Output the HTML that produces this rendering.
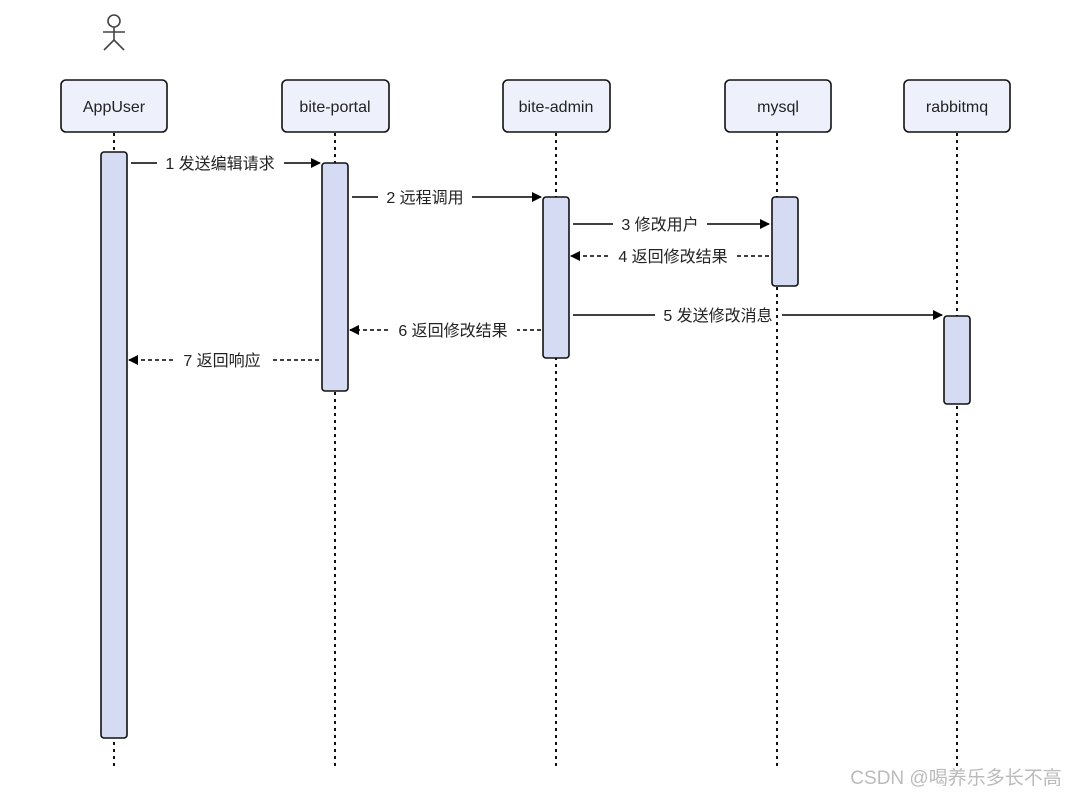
<!DOCTYPE html>
<html><head><meta charset="utf-8"><style>
html,body{margin:0;padding:0;background:#fff;}
svg{display:block;}
text{font-family:"Liberation Sans","Noto Sans CJK SC",sans-serif;font-size:16px;fill:#222;}
</style></head><body>
<svg width="1071" height="795" viewBox="0 0 1071 795" xmlns="http://www.w3.org/2000/svg">
<defs>
<marker id="ah" markerWidth="10" markerHeight="10" refX="9" refY="5" orient="auto" markerUnits="userSpaceOnUse">
<path d="M0,0 L10,5 L0,10 z" fill="#000"/>
</marker>
</defs>
<g stroke="#444" stroke-width="1.6" fill="none">
<circle cx="114" cy="21" r="6"/>
<line x1="114" y1="27" x2="114" y2="40"/>
<line x1="103" y1="32" x2="125" y2="32"/>
<line x1="114" y1="40" x2="104" y2="50"/>
<line x1="114" y1="40" x2="124" y2="50"/>
</g>
<g stroke="#111" stroke-width="2" stroke-dasharray="3,4">
<line x1="114" y1="133" x2="114" y2="768"/>
<line x1="335" y1="133" x2="335" y2="768"/>
<line x1="556" y1="133" x2="556" y2="768"/>
<line x1="777" y1="133" x2="777" y2="768"/>
<line x1="957" y1="133" x2="957" y2="768"/>
</g>
<g fill="#eef1fc" stroke="#111" stroke-width="1.6">
<rect x="61" y="80" width="106" height="52" rx="5"/>
<rect x="282" y="80" width="107" height="52" rx="5"/>
<rect x="503" y="80" width="107" height="52" rx="5"/>
<rect x="725" y="80" width="106" height="52" rx="5"/>
<rect x="904" y="80" width="106" height="52" rx="5"/>
</g>
<g text-anchor="middle" style="font-size:17px">
<text x="114" y="112">AppUser</text>
<text x="335" y="112">bite-portal</text>
<text x="556" y="112">bite-admin</text>
<text x="778" y="112">mysql</text>
<text x="957" y="112">rabbitmq</text>
</g>
<g fill="#d5dbf3" stroke="#111" stroke-width="1.6">
<rect x="101" y="152" width="26" height="586" rx="3"/>
<rect x="322" y="163" width="26" height="228" rx="3"/>
<rect x="543" y="197" width="26" height="161" rx="3"/>
<rect x="772" y="197" width="26" height="89" rx="3"/>
<rect x="944" y="316" width="26" height="88" rx="3"/>
</g>
<g stroke="#000" stroke-width="1.6" fill="none">
<line x1="131" y1="163" x2="157" y2="163"/>
<line x1="284" y1="163" x2="320" y2="163" marker-end="url(#ah)"/>
<line x1="352" y1="197" x2="378" y2="197"/>
<line x1="472" y1="197" x2="541" y2="197" marker-end="url(#ah)"/>
<line x1="573" y1="224" x2="613" y2="224"/>
<line x1="707" y1="224" x2="769" y2="224" marker-end="url(#ah)"/>
<line x1="573" y1="315" x2="655" y2="315"/>
<line x1="782" y1="315" x2="942" y2="315" marker-end="url(#ah)"/>
</g>
<g stroke="#000" stroke-width="1.6" fill="none" stroke-dasharray="4,3">
<line x1="769" y1="256" x2="737" y2="256"/>
<line x1="608" y1="256" x2="571" y2="256" marker-end="url(#ah)"/>
<line x1="541" y1="330" x2="517" y2="330"/>
<line x1="388" y1="330" x2="350" y2="330" marker-end="url(#ah)"/>
<line x1="319" y1="360" x2="270" y2="360"/>
<line x1="173" y1="360" x2="129" y2="360" marker-end="url(#ah)"/>
</g>
<g text-anchor="middle">
<text x="220" y="169">1 发送编辑请求</text>
<text x="425" y="203">2 远程调用</text>
<text x="660" y="230">3 修改用户</text>
<text x="673" y="262">4 返回修改结果</text>
<text x="718" y="321">5 发送修改消息</text>
<text x="453" y="336">6 返回修改结果</text>
<text x="222" y="366">7 返回响应</text>
</g>
<text x="956" y="784" text-anchor="middle" style="font-size:19px;fill:#bbb">CSDN @喝养乐多长不高</text>
</svg>
</body></html>
